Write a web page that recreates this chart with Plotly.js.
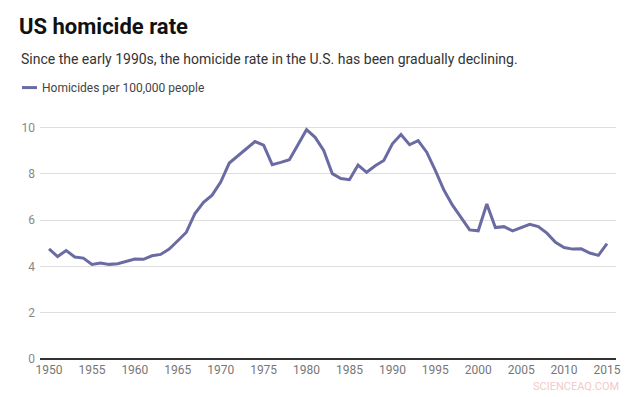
<!DOCTYPE html>
<html>
<head>
<meta charset="utf-8">
<script src="https://cdn.plot.ly/plotly-3.0.1.min.js"></script>
<style>html,body{margin:0;padding:0;background:#fff;}#chart{width:637px;height:397px;}</style>
</head>
<body>
<div id="chart"></div>
<script>
const years = [1950,1951,1952,1953,1954,1955,1956,1957,1958,1959,1960,1961,1962,1963,1964,1965,1966,1967,1968,1969,1970,1971,1972,1973,1974,1975,1976,1977,1978,1979,1980,1981,1982,1983,1984,1985,1986,1987,1988,1989,1990,1991,1992,1993,1994,1995,1996,1997,1998,1999,2000,2001,2002,2003,2004,2005,2006,2007,2008,2009,2010,2011,2012,2013,2014,2015];
const homicideRate = [4.76,4.43,4.69,4.41,4.36,4.09,4.15,4.09,4.12,4.22,4.32,4.31,4.46,4.52,4.75,5.11,5.48,6.29,6.77,7.08,7.65,8.47,8.77,9.06,9.40,9.24,8.40,8.50,8.61,9.26,9.91,9.58,9.01,8.01,7.80,7.75,8.38,8.07,8.35,8.58,9.30,9.70,9.26,9.44,8.94,8.15,7.30,6.65,6.12,5.58,5.54,6.70,5.68,5.72,5.54,5.69,5.82,5.72,5.44,5.04,4.82,4.75,4.76,4.58,4.48,4.99];
const xTicks = [1950,1955,1960,1965,1970,1975,1980,1985,1990,1995,2000,2005,2010,2015];
const yTicks = [0,2,4,6,8,10];
const seriesName = "Homicides per 100,000 people";
const lineColor = "#6b6ba3";

const W = 637, H = 397, L = 40, R = 21, T = 122.5, B = 38;
const pw = W - L - R, ph = H - T - B;
const px = x => (x - L) / pw;
const py = y => (H - B - y) / ph;

Plotly.newPlot('chart', [{
  x: years, y: homicideRate, type: 'scatter', mode: 'lines', name: seriesName,
  line: {color: lineColor, width: 3}, hoverinfo: 'x+y'
}], {
  width: W, height: H,
  margin: {l: L, r: R, t: T, b: B, pad: 0},
  paper_bgcolor: '#fff', plot_bgcolor: '#fff',
  font: {family: 'Roboto, sans-serif', color: '#777', size: 12},
  showlegend: false,
  title: {text: '<b>US homicide rate</b>', font: {family: 'Roboto, sans-serif', size: 22, color: '#111'},
    xref: 'container', x: 19/W, xanchor: 'left', yref: 'container', y: 1 - 26/H, yanchor: 'middle'},
  xaxis: {range: [1948.95, 2016.05], tickvals: xTicks, ticktext: xTicks.map(String), showgrid: false, zeroline: false,
    showline: false, ticks: '', ticklabelstandoff: 2, tickfont: {size: 12, color: '#777'}, fixedrange: true},
  yaxis: {range: [0, 10.2], tickvals: yTicks, ticktext: yTicks.map(String), showgrid: true, gridcolor: '#dedede', gridwidth: 1,
    zeroline: true, zerolinecolor: '#333', zerolinewidth: 1.5, showline: false, ticks: '', ticklabelstandoff: 4,
    tickfont: {size: 12, color: '#888'}, fixedrange: true},
  shapes: [{type: 'line', xref: 'paper', yref: 'paper', x0: px(22), x1: px(37), y0: py(87), y1: py(87),
    line: {color: lineColor, width: 3}}],
  annotations: [
    {text: 'Since the early 1990s, the homicide rate in the U.S. has been gradually declining.', xref: 'paper', yref: 'paper',
      x: px(19), y: py(58), xanchor: 'left', yanchor: 'middle', showarrow: false, font: {size: 14, color: '#333'}},
    {text: seriesName, xref: 'paper', yref: 'paper', x: px(40), y: py(87), xanchor: 'left', yanchor: 'middle',
      showarrow: false, font: {size: 12, color: '#444'}},
    {text: 'SCIENCEAQ.COM', xref: 'paper', yref: 'paper', x: px(621), y: py(387), xanchor: 'right', yanchor: 'middle',
      showarrow: false, font: {size: 11, color: '#f2c9c9'}}
  ]
}, {displayModeBar: false, staticPlot: true});
</script>
</body>
</html>
